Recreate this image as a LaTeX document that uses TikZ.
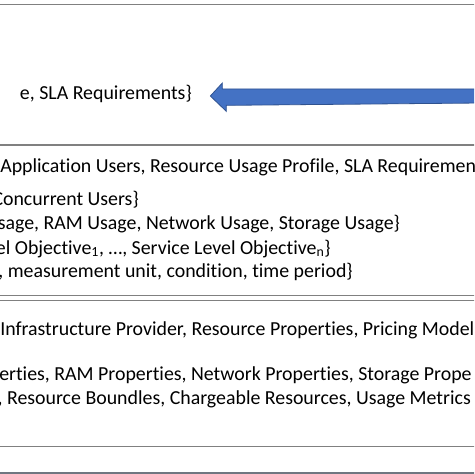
\documentclass[tikz,border=0pt]{standalone}
\usepackage{fontspec}
\setmainfont{Carlito}[Ligatures=NoCommon]
\usepackage{tikz}

\definecolor{rulegray}{RGB}{128,128,128}
\definecolor{bandgray}{RGB}{112,118,128}
\definecolor{arrowblue}{RGB}{68,114,196}
\definecolor{arrowedge}{RGB}{47,82,143}

\tikzset{
  rule/.style={draw=rulegray, line width=1.1pt},
  listtext/.style={inner sep=0.75pt, font=\fontsize{14.9}{18}\selectfont}
}

\begin{document}
\begin{tikzpicture}[x=0.75pt,y=0.75pt,yscale=-1,xscale=1]
    \useasboundingbox (0,0) rectangle (474,474);
    \clip (0,0) rectangle (474,474);

    %Straight Lines [top rule]
    \draw [rule] (-5,4.5) -- (480,4.5) ;
    %Straight Lines [second box]
    \draw [rule] (-5,145) -- (480,145) ;
    \draw [rule] (-5,295.5) -- (480,295.5) ;
    %Straight Lines [third box]
    \draw [rule] (-5,300.7) -- (480,300.7) ;
    \draw [rule] (-5,446.7) -- (480,446.7) ;
    %Straight Lines [bottom band]
    \draw [draw=bandgray, line width=3pt] (-5,473.5) -- (480,473.5) ;

    % Text Node
    \draw (193,100) node [anchor=base east][listtext] (req) {e, SLA Requirements\}};
    %Shape: Block Arrow
    \coordinate (tip) at ([xshift=13]req.east |- 0,96);
    \filldraw [fill=arrowblue, draw=arrowedge, line width=0.6pt] (tip) -- ++(12,-13) -- ++(0,6) -- (480,89) -- (480,103) -- ([xshift=12,yshift=7]tip) -- ++(0,6) -- cycle ;

    % Text Node
    \draw (-1,172.7) node [anchor=base west][listtext] (app) {Application Users, Resource Usage Profile, SLA Requiremen};
    % Text Node
    \draw (140,205.7) node [anchor=base east][listtext] (users) {Concurrent Users\}};
    % Text Node
    \draw (401,229.3) node [anchor=base east][listtext] (usage) {sage, RAM Usage, Network Usage, Storage Usage\}};
    % Text Node
    \draw (332,254) node [anchor=base east][listtext] (slo) {el Objective\textsubscript{1}, …, Service Level Objective\textsubscript{n}\}};
    % Text Node
    \draw (354,277) node [anchor=base east][listtext] (metric) {, measurement unit, condition, time period\}};

    % Text Node
    \draw (-1,335.7) node [anchor=base west][listtext] (infra) {Infrastructure Provider, Resource Properties, Pricing Model};
    % Text Node
    \draw (-2,380) node [anchor=base west][listtext] (props) {erties, RAM Properties, Network Properties, Storage Prope};
    % Text Node
    \draw (472,404) node [anchor=base east][listtext] (pricing) {, Resource Boundles, Chargeable Resources, Usage Metrics};

\end{tikzpicture}
\end{document}
